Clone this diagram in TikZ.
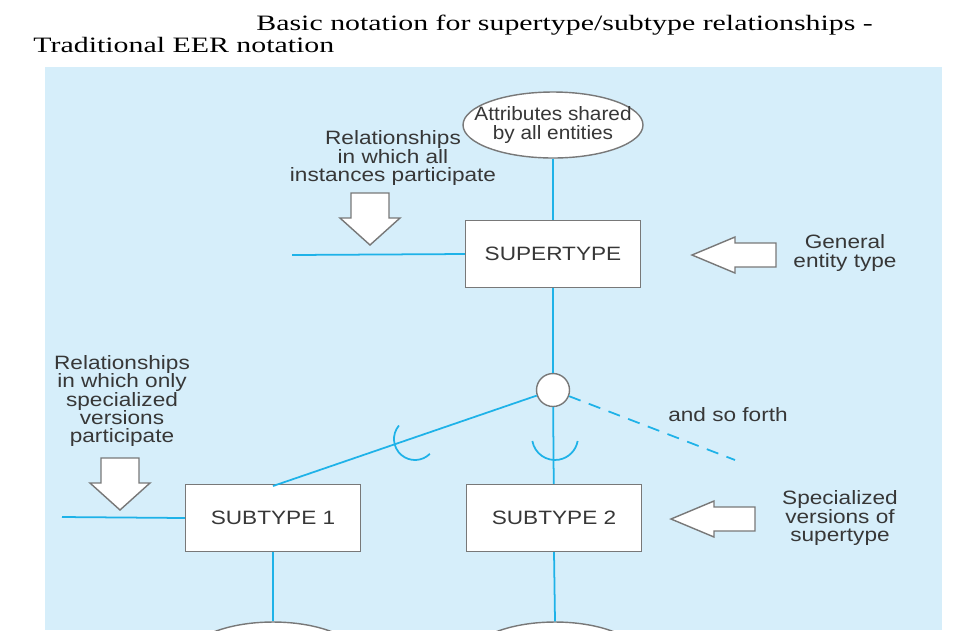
\documentclass[tikz,border=0pt]{standalone}
\usepackage{fontspec}
\setmainfont{Liberation Serif}
\newfontfamily\lab{Liberation Sans}
\usetikzlibrary{shapes.geometric}
\definecolor{bg}{RGB}{214,238,250}
\definecolor{ln}{RGB}{30,178,232}
\definecolor{bx}{RGB}{120,120,120}
\definecolor{tx}{RGB}{55,55,55}
\tikzset{
  wide/.style = {xscale=1.17},
  box/.style = {draw=bx, fill=white, line width=0.8pt, minimum width=3.5cm, minimum height=1.34cm},
  boxtext/.style = {font=\lab\fontsize{11}{12}\selectfont, text=tx, wide},
  lbl/.style = {align=center, font=\lab\fontsize{11}{10.3}\selectfont, text=tx, wide},
  ttl/.style = {anchor=base west, font=\fontsize{12.5}{14}\selectfont, xscale=1.36},
  conn/.style = {draw=ln, line width=1pt},
  barrow/.style = {draw=bx, fill=white, line width=0.8pt},
  pics/downarrow/.style = {code={\draw[barrow] (0,0) -- (-30,-27) -- (-19,-27) -- (-19,-52) -- (19,-52) -- (19,-27) -- (30,-27) -- cycle;}},
  pics/leftarrow/.style = {code={\draw[barrow] (0,0) -- (43,18) -- (43,12) -- (84,12) -- (84,-12) -- (43,-12) -- (43,-18) -- cycle;}},
}
\begin{document}
\begin{tikzpicture}[x=0.02cm, y=-0.02cm]
\useasboundingbox (0,0) rectangle (962,630);
\fill[bg] (45,67) rectangle (942,630);
\node[ttl] (t1) at (248,30) {Basic notation for supertype/subtype relationships -};
\node[ttl] (t2) at (25,52) {Traditional EER notation};

\begin{scope}
\clip (45,67) rectangle (942,630);
\node[ellipse, draw=bx, fill=white, line width=0.8pt, minimum width=3.6cm, minimum height=1.32cm] (attr) at (553,125) {};
\node[lbl, xscale=0.92] (attrtext) at (attr) {Attributes shared\\by all entities};
\node[box] (sup) at (553,254) {};
\node[boxtext] (suptext) at (sup) {SUPERTYPE};
\node[circle, draw=bx, fill=white, line width=0.8pt, minimum size=0.66cm, inner sep=0pt] (circ) at (553,390) {};
\node[box] (sub1) at (273,518) {};
\node[boxtext] (sub1text) at (sub1) {SUBTYPE 1};
\node[box] (sub2) at (554,518) {};
\node[boxtext] (sub2text) at (sub2) {SUBTYPE 2};
\node[ellipse, draw=bx, fill=white, line width=0.8pt, minimum width=3.6cm, minimum height=1.6cm] (e1) at (273,662) {};
\node[ellipse, draw=bx, fill=white, line width=0.8pt, minimum width=3.6cm, minimum height=1.6cm] (e2) at (555,662) {};

\coordinate (rel1) at (292,255);
\coordinate (rel2) at (62,517);
\coordinate (etc) at (735,460);
\coordinate (s1top) at (273,486);
\coordinate (arc2) at (555,437);
\coordinate (arc1) at (415,439);

\draw[conn] (attr) -- (sup);
\draw[conn] (sup) -- (circ);
\draw[conn] (rel1) -- (sup.west);
\draw[conn] (rel2) -- (sub1.west);
\draw[conn] (circ) -- (s1top);
\draw[conn] (circ) -- (sub2);
\draw[conn, dashed, dash pattern=on 7pt off 5pt] (circ) -- (etc);
\draw[conn] (sub1.south) -- (e1.north);
\draw[conn] (sub2.south) -- (e2.north);
% subset symbols
\draw[conn] (arc2) ++(190:0.46cm) arc[start angle=190, end angle=350, radius=0.46cm];
\draw[conn] (arc1) ++(140:0.42cm) arc[start angle=140, end angle=315, radius=0.42cm];
\end{scope}

\pic at (370,245) {downarrow};
\pic at (120,510) {downarrow};
\pic at (692,255) {leftarrow};
\pic at (671,519) {leftarrow};

\node[lbl] (l1) at (393,158) {Relationships\\in which all\\instances participate};
\node[lbl] (l2) at (845,253) {General\\entity type};
\node[lbl] (l3) at (122,401) {Relationships\\in which only\\specialized\\versions\\participate};
\node[lbl] (l4) at (728,415) {and so forth};
\node[lbl] (l5) at (840,518) {Specialized\\versions of\\supertype};
\end{tikzpicture}
\end{document}
